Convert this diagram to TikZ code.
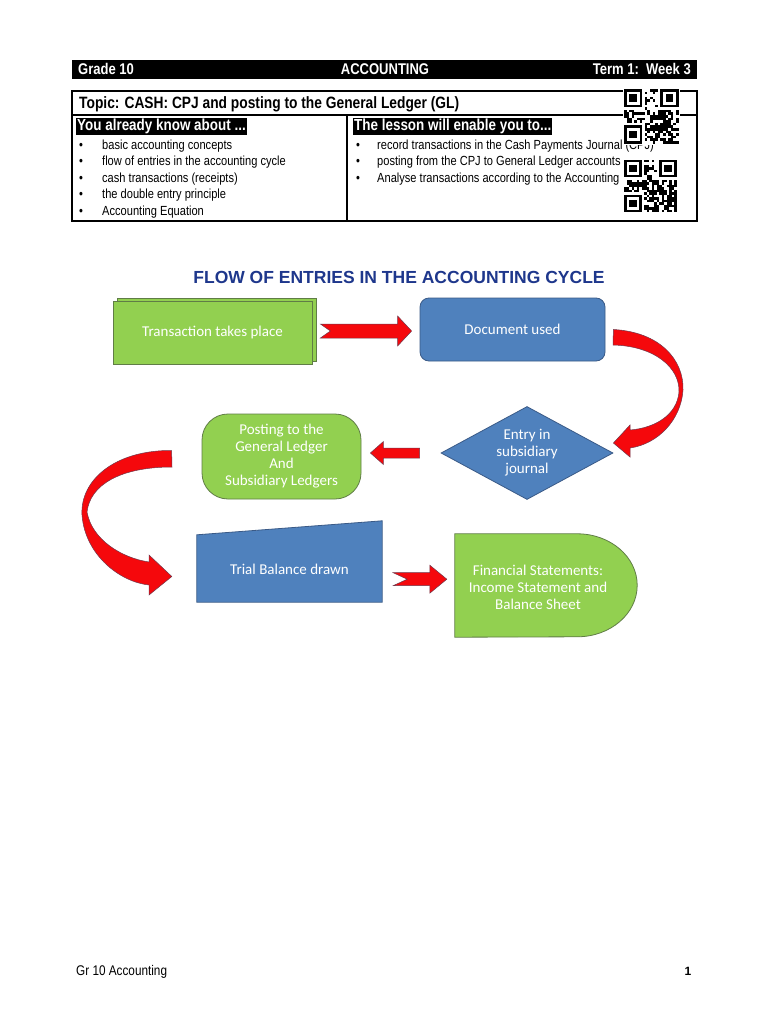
\documentclass[tikz,border=0pt]{standalone}
\usepackage{fontspec}
\setmainfont{Liberation Sans}
\newfontfamily\narrowfont{Liberation Sans}[FakeStretch=0.84]
\newfontfamily\flowfont{Carlito}
\usetikzlibrary{shapes.geometric,calc}

\definecolor{leafgreen}{RGB}{146,208,80}
\definecolor{leafedge}{RGB}{96,125,70}
\definecolor{steelblue}{RGB}{79,129,189}
\definecolor{steeledge}{RGB}{58,90,135}
\definecolor{flowred}{RGB}{245,8,12}
\definecolor{flowrededge}{RGB}{110,55,75}
\definecolor{titleblue}{RGB}{30,55,140}

% red block arrow: tail, tip, half body, half head, head length, notch
\newcommand{\blockarrow}[6]{%
  \filldraw[redarrow] let \p1=#1, \p2=#2, \n1={ifthenelse(\x2>\x1,1,-1)} in
    ({\x1},{\y1+#3}) -- ({\x2-\n1*#5},{\y1+#3}) -- ({\x2-\n1*#5},{\y1+#4})
    -- ({\x2},{\y1}) -- ({\x2-\n1*#5},{\y1-#4}) -- ({\x2-\n1*#5},{\y1-#3})
    -- ({\x1},{\y1-#3}) -- ({\x1+\n1*#6},{\y1}) -- cycle;}

% qr patch: corner, seed, module size (21 x 21 modules)
\newcommand{\qrpatch}[3]{%
  \begin{scope}[shift={#1}]
    \fill[white] (-1,-1) rectangle ({21*#3+1},{21*#3+1});
    \pgfmathsetseed{#2}
    \foreach \i in {0,...,20}
      \foreach \j in {0,...,20}{
        \pgfmathtruncatemacro\dark{(rnd<0.58)*(1-((\i<8)&&(\j<8))-((\i>12)&&(\j<8))-((\i<8)&&(\j>12)))}
        \ifnum\dark=1 \fill (\i*#3,\j*#3) rectangle ++(#3,#3);\fi}
    \foreach \cx/\cy in {0/0,14/0,0/14}{
      \fill (\cx*#3,\cy*#3) rectangle ++(7*#3,7*#3);
      \fill[white] (\cx*#3+#3,\cy*#3+#3) rectangle ++(5*#3,5*#3);
      \fill (\cx*#3+2*#3,\cy*#3+2*#3) rectangle ++(3*#3,3*#3);}
  \end{scope}}

\begin{document}
\begin{tikzpicture}[x=1pt, y=-1pt,
    flowtext/.style={text=white, align=center, font=\flowfont\fontsize{15}{17}\selectfont},
    greenbox/.style={flowtext, draw=leafedge, fill=leafgreen, line width=0.8pt},
    bluebox/.style={flowtext, draw=steeledge, fill=steelblue, line width=0.8pt},
    redarrow/.style={draw=flowrededge, fill=flowred, line width=0.5pt},
    blackbar/.style={fill=black, text=white, inner sep=1pt, font=\narrowfont\bfseries\fontsize{15.5}{17}\selectfont},
    itemtext/.style={anchor=base west, inner sep=0pt, font=\narrowfont\fontsize{13.2}{15}\selectfont}
  ]
  \useasboundingbox (0,0) rectangle (768,1024);
  \fill[white] (0,0) rectangle (768,1024);

  % page header
  \node[fill=black, minimum width=625pt, minimum height=19pt, inner sep=0pt] (headbar) at (384.5,69.5) {};
  \node[blackbar, anchor=base west] (grade) at (77,75) {Grade 10};
  \node[blackbar, anchor=base] (subject) at (385,75) {ACCOUNTING};
  \node[blackbar, anchor=base east] (term) at (692,75) {Term 1:\ \ Week 3};

  % topic table
  \draw[line width=1.2pt] (72,91) rectangle (697,221);
  \draw[line width=1.2pt] (72,115) -- (697,115);
  \draw[line width=1.2pt] (347,115) -- (347,221);
  \node[anchor=base west, inner sep=0pt, font=\narrowfont\bfseries\fontsize{16.4}{18}\selectfont] (topic) at (79,108.5) {Topic: CASH: CPJ and posting to the General Ledger (GL)};
  \node[blackbar, anchor=base west, font=\narrowfont\bfseries\fontsize{16}{18}\selectfont] (knowhead) at (76,131) {You already know about ...};
  \node[blackbar, anchor=base west, font=\narrowfont\bfseries\fontsize{16}{18}\selectfont] (aimhead) at (353,131) {The lesson will enable you to...};
  \foreach \ypos/\txt [count=\k] in {149.5/basic accounting concepts, 166/flow of entries in the accounting cycle,
      182.5/cash transactions (receipts), 199/the double entry principle, 215.5/Accounting Equation}{
    \node[itemtext] (knowdot\k) at (79,\ypos) {\textbullet};
    \node[itemtext] (know\k) at (102,\ypos) {\txt};
  }
  \foreach \ypos/\txt [count=\k] in {149.5/record transactions in the Cash Payments Journal (CPJ),
      166/posting from the CPJ to General Ledger accounts, 182.5/Analyse transactions according to the Accounting}{
    \node[itemtext] (aimdot\k) at (356,\ypos) {\textbullet};
    \node[itemtext] (aim\k) at (377,\ypos) {\txt};
  }
  \qrpatch{(624,89)}{17}{2.6}
  \qrpatch{(624,160)}{42}{2.5}

  % flow chart
  \node[font=\bfseries\fontsize{17.5}{20}\selectfont, text=titleblue] (title) at (399,277) {FLOW OF ENTRIES IN THE ACCOUNTING CYCLE};

  \node[greenbox, minimum width=199pt, minimum height=63pt] (transback) at (217,329.5) {};
  \node[greenbox, minimum width=199pt, minimum height=63pt] (trans) at (212.5,332.5) {Transaction takes place};
  \node[bluebox, rounded corners=9pt, minimum width=185pt, minimum height=63pt] (doc) at (512.5,329.5) {Document used};
  \node[bluebox, diamond, inner sep=0pt, aspect=1.85, minimum width=172pt, minimum height=93pt] (entry) at (527,453) {Entry in\\subsidiary\\journal};
  \node[greenbox, rounded corners=26pt, minimum width=159pt, minimum height=85pt] (post) at (281.5,456.5) {Posting to the\\General Ledger\\And\\Subsidiary Ledgers};

  \node[minimum width=185pt, minimum height=81pt] (trial) at (289.5,561.5) {};
  \filldraw[draw=steeledge, fill=steelblue, line width=0.8pt] (trial.south west) -- (trial.south east)
    -- (trial.north east) -- ($(trial.north west)+(0,14)$) -- cycle;
  \node[flowtext] (trialtext) at ($(trial.center)+(0,8)$) {Trial Balance drawn};

  \node[minimum width=182pt, minimum height=103pt] (fin) at (546,585.5) {};
  \filldraw[draw=leafedge, fill=leafgreen, line width=0.8pt] (fin.south west) -- (fin.north west)
    -- ($(fin.north east)+(-60,0)$) arc[start angle=-90, end angle=90, x radius=60, y radius=51.5] -- cycle;
  \node[flowtext] (fintext) at (538,587) {Financial Statements:\\Income Statement and\\Balance Sheet};

  % straight arrows
  \blockarrow{($(trans.east)+(8,-1.5)$)}{($(doc.west)+(-8,0)$)}{7pt}{15pt}{14pt}{10pt}
  \blockarrow{($(entry.west)+(-21,0)$)}{($(post.east)+(9,0)$)}{5pt}{11.5pt}{13pt}{0pt}
  \blockarrow{($(trial.south east)+(11,-23)$)}{($(fin.west)+(-8,0)$)}{6.5pt}{14pt}{17pt}{14pt}

  % curved arrows
  \filldraw[redarrow] ($(doc.east)+(8,0)$) .. controls (660,332) and (684,360) .. (683,390)
    .. controls (681,420) and (658,444) .. (630,448) -- (630,457) -- ($(entry.east)+(0,-10)$)
    -- (630,425) -- (630,430) .. controls (655,428) and (677,415) .. (679,392)
    .. controls (680,368) and (655,346) .. (613,345) -- cycle;
  \filldraw[redarrow] ($(post.west)+(-30,-6)$) .. controls (115,450) and (80,480) .. (82,515)
    .. controls (85,555) and (120,582) .. (149,585) -- (149,595) -- ($(trial.west)+(-25,15)$)
    -- (149,555) -- (149,562) .. controls (122,558) and (92,540) .. (87,512)
    .. controls (90,485) and (120,467) .. (172,467) -- cycle;

  % page footer
  \node[anchor=base west, inner sep=0pt, font=\narrowfont\fontsize{14}{16}\selectfont] (footleft) at (76,975) {Gr 10 Accounting};
  \node[anchor=base, font=\bfseries\fontsize{12}{14}\selectfont] (pagenum) at (688,975) {1};
\end{tikzpicture}
\end{document}
